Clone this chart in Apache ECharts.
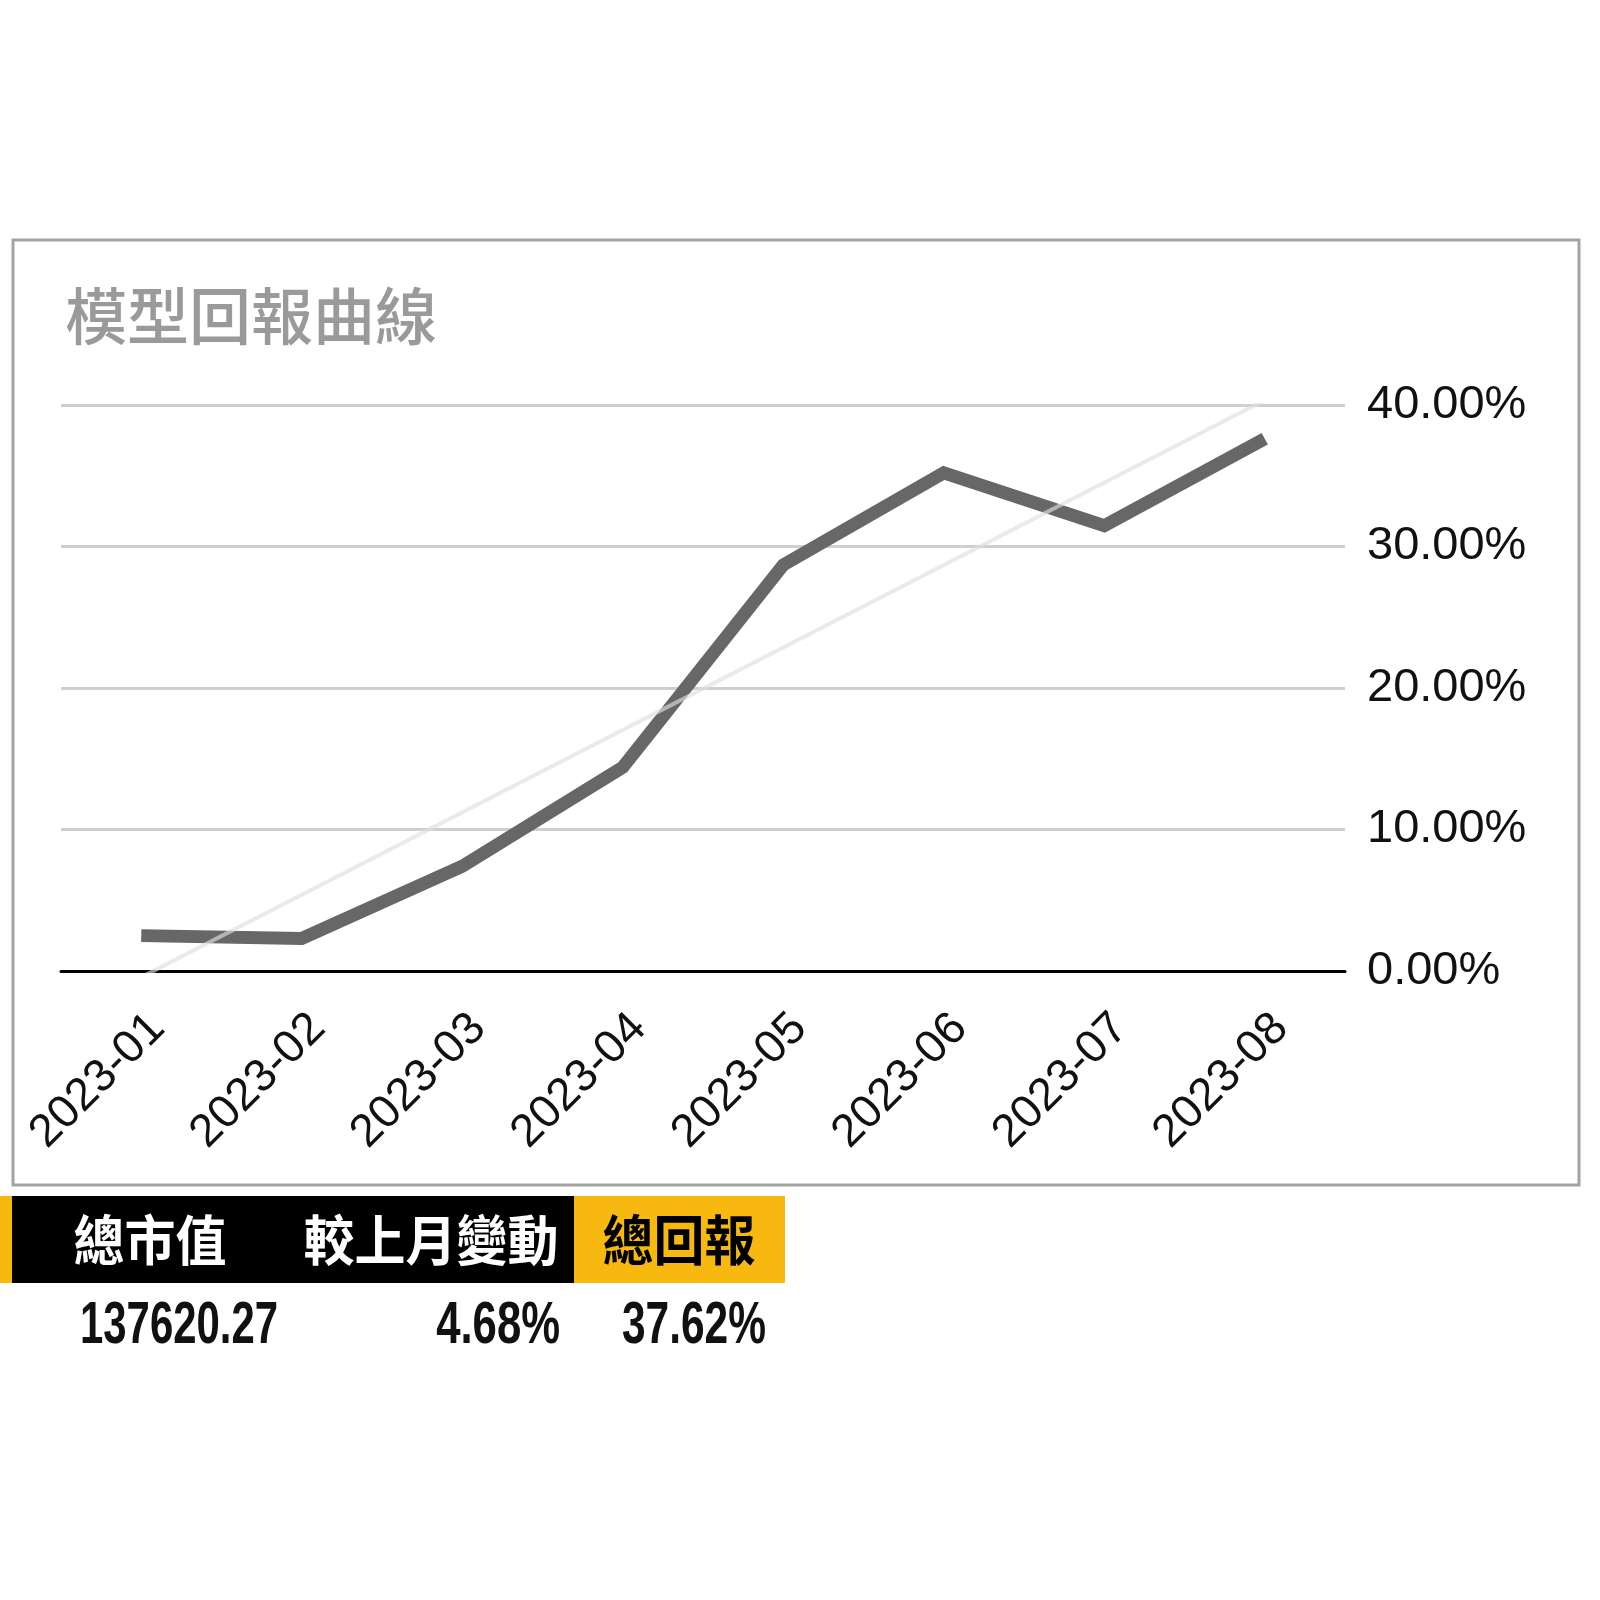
<!DOCTYPE html>
<html>
<head>
<meta charset="utf-8">
<script src="https://cdn.jsdelivr.net/npm/echarts@6/dist/echarts.min.js"></script>
<style>
html,body{margin:0;padding:0;background:#fff;}
#chart{width:1600px;height:1600px;}
</style>
</head>
<body>
<div id="chart"></div>
<script>
// ---- data ----
const titleText = '模型回報曲線';
const months = ['2023-01','2023-02','2023-03','2023-04','2023-05','2023-06','2023-07','2023-08'];
const returns = [2.5, 2.3, 7.4, 14.4, 28.7, 35.2, 31.47, 37.62];   // percent
const trendValues = [-0.44, null, null, null, null, null, null, 40.34]; // linear trendline endpoints
const yTicks = [0, 10, 20, 30, 40];
const tableHeaders = ['總市值', '較上月變動', '總回報'];
const tableValues = ['137620.27', '4.68%', '37.62%'];

const YELLOW = '#f7b90f';
const chart = echarts.init(document.getElementById('chart'), null, {renderer: 'canvas'});

const numFont = '"Liberation Sans", Arial, sans-serif';
const cjkFont = '"Noto Sans CJK TC","Noto Sans CJK SC",sans-serif';

const option = {
  backgroundColor: '#ffffff',
  animation: false,
  title: {
    text: titleText,
    left: 60,
    top: 280,
    textStyle: {fontFamily: cjkFont, fontSize: 62, fontWeight: 500, color: '#9a9a9a'}
  },
  grid: {left: 61, right: 255, top: 405, bottom: 629, containLabel: false},
  xAxis: {
    type: 'category',
    data: months,
    boundaryGap: true,
    axisLine: {show: true, lineStyle: {color: '#000', width: 3}},
    axisTick: {show: false},
    axisLabel: {
      rotate: 45, margin: 34, align: 'right', verticalAlign: 'top', interval: 0,
      fontFamily: numFont, fontSize: 46, color: '#111'
    },
    splitLine: {show: false}
  },
  yAxis: {
    type: 'value',
    position: 'right',
    min: yTicks[0], max: yTicks[yTicks.length - 1], interval: 10,
    axisLine: {show: false},
    axisTick: {show: false},
    axisLabel: {
      margin: 22, fontFamily: numFont, fontSize: 47, color: '#111',
      padding: [12, 0, 0, 0],
      formatter: v => v.toFixed(2) + '%'
    },
    splitLine: {show: true, lineStyle: {color: '#cfcfcf', width: 3}}
  },
  series: [
    {
      type: 'line', data: returns, symbol: 'none', z: 2,
      lineStyle: {color: '#676767', width: 13, cap: 'butt', join: 'miter'}
    },
    {
      type: 'line', data: trendValues, symbol: 'none', connectNulls: true, z: 3, clip: true,
      lineStyle: {color: 'rgba(222,222,222,0.65)', width: 4}
    }
  ],
  graphic: [
    {type: 'rect', shape: {x: 13, y: 240, width: 1566, height: 945},
     style: {fill: 'none', stroke: '#a3a3a3', lineWidth: 3}, silent: true},
    // table header band
    {type: 'rect', shape: {x: 0, y: 1196, width: 12, height: 87}, style: {fill: YELLOW}},
    {type: 'rect', shape: {x: 12, y: 1196, width: 562, height: 87}, style: {fill: '#000'}},
    {type: 'rect', shape: {x: 574, y: 1196, width: 211, height: 87}, style: {fill: YELLOW}},
    {type: 'text', x: 150, y: 1240, scaleY: 1.06, style: {text: tableHeaders[0], fill: '#fff', font: 'bold 51px ' + cjkFont, textAlign: 'center', textVerticalAlign: 'middle'}},
    {type: 'text', x: 431, y: 1240, scaleY: 1.06, style: {text: tableHeaders[1], fill: '#fff', font: 'bold 51px ' + cjkFont, textAlign: 'center', textVerticalAlign: 'middle'}},
    {type: 'text', x: 679, y: 1240, scaleY: 1.06, style: {text: tableHeaders[2], fill: '#000', font: 'bold 51px ' + cjkFont, textAlign: 'center', textVerticalAlign: 'middle'}},
    // values row
    {type: 'text', x: 80, y: 1327, scaleX: 0.71, style: {text: tableValues[0], fill: '#111', font: 'bold 59px ' + numFont, textAlign: 'left', textVerticalAlign: 'middle'}},
    {type: 'text', x: 560, y: 1327, scaleX: 0.74, style: {text: tableValues[1], fill: '#111', font: 'bold 59px ' + numFont, textAlign: 'right', textVerticalAlign: 'middle'}},
    {type: 'text', x: 766, y: 1327, scaleX: 0.72, style: {text: tableValues[2], fill: '#111', font: 'bold 59px ' + numFont, textAlign: 'right', textVerticalAlign: 'middle'}}
  ]
};
chart.setOption(option);
</script>
</body>
</html>
